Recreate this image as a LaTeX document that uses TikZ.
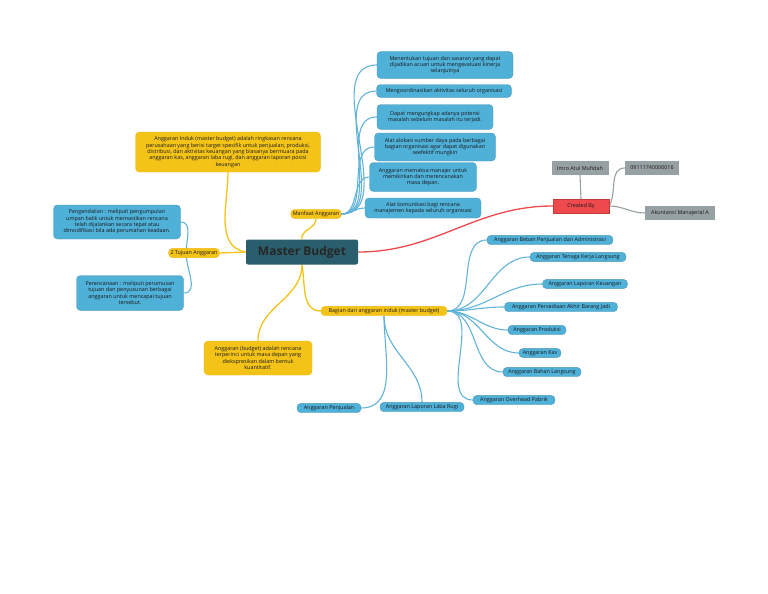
\documentclass[tikz,border=0pt]{standalone}
\usepackage{fontspec}
\setmainfont{Open Sans}
\usetikzlibrary{backgrounds}
\definecolor{yel}{HTML}{F4C318}
\definecolor{blu}{HTML}{4FB0D8}
\definecolor{lnk}{HTML}{62B3D8}
\definecolor{teal}{HTML}{2A5E6C}
\definecolor{gry}{HTML}{97A0A2}
\definecolor{redc}{HTML}{EE4A4E}
\begin{document}
\begin{tikzpicture}[x=1pt,y=-1pt,
 base/.style={rounded corners=4pt,inner sep=2pt,font=\fontsize{5.4}{6.3}\selectfont,align=center,text=black!90},
 ybox/.style={base,fill=yel,draw=yel!80!orange},
 bbox/.style={base,fill=blu,draw=blu!80!black!90},
 gbox/.style={base,rounded corners=0pt,fill=gry,minimum height=14pt},
 yl/.style={draw=yel,line width=1.3pt},
 bl/.style={draw=lnk,line width=1.1pt},
 gl/.style={draw=gry,line width=1.1pt}]
\useasboundingbox (0,0) rectangle (768,594);
\node[fill=teal,rounded corners=2pt,minimum width=112pt,minimum height=25pt,font=\bfseries\fontsize{12}{14}\selectfont,text=black!85] (mb) at (302,252) {Master Budget};
\node[ybox] (man) at (316,214) {Manfaat Anggaran};
\node[ybox,minimum width=185pt,minimum height=40pt] (ind) at (228,152) {Anggaran Induk (master budget) adalah ringkasan rencana\\perusahaan yang berisi target spesifik untuk penjualan, produksi,\\distribusi, dan aktivitas keuangan yang biasanya bermuara pada\\anggaran kas, anggaran laba rugi, dan anggaran laporan posisi\\keuangan};
\node[ybox] (tuj) at (194,253) {2 Tujuan Anggaran};
\coordinate (tj) at (186,253);
\node[bbox,minimum width=127pt,minimum height=34pt] (pen) at (117,222) {Pengendalian : meliputi pengumpulan\\umpan balik untuk memastikan rencana\\telah dijalankan secara tepat atau\\dimodifikasi bila ada perumahan keadaan.};
\node[bbox,minimum width=107pt,minimum height=35pt] (per) at (130,293) {Perencanaan : meliputi perumusan\\tujuan dan penyusunan berbagai\\anggaran untuk mencapai tujuan\\tersebut.};
\node[ybox,minimum width=108pt,minimum height=34pt] (ang) at (258,358) {Anggaran (budget) adalah rencana\\terperinci untuk masa depan yang\\diekspresikan dalam bentuk\\kuantitatif.};
\node[ybox,minimum width=126pt] (bag) at (384,311) {Bagian dari anggaran induk (master budget)};
\node[bbox,minimum width=136pt,minimum height=27pt] (m1) at (445,65) {Menentukan tujuan dan sasaran yang dapat\\dijadikan acuan untuk mengevaluasi kinerja\\selanjutnya};
\node[bbox,minimum width=135pt,minimum height=13pt] (m2) at (444,91) {Mengoordinasikan aktivitas seluruh organisasi};
\node[bbox,minimum width=116pt,minimum height=25pt] (m3) at (435,117) {Dapat mengungkap adanya potensi\\masalah sebelum masalah itu terjadi.};
\node[bbox,minimum width=121pt,minimum height=28pt] (m4) at (435,147) {Alat alokasi sumber daya pada berbagai\\bagian organisasi agar dapat digunakan\\seefektif mungkin};
\node[bbox,minimum width=107pt,minimum height=29pt] (m5) at (423,177) {Anggaran memaksa manajer untuk\\memikirkan dan merencanakan\\masa depan.};
\node[bbox,minimum width=116pt,minimum height=20pt] (m6) at (423,208) {Alat komunikasi bagi rencana\\manajemen kepada seluruh organisasi};
\node[base,rounded corners=0pt,fill=redc,draw=redc!80!black,minimum width=56pt,minimum height=14pt] (cb) at (581,206) {Created By};
\node[gbox,minimum width=57pt] (im) at (580,168) {Imro Atul Mufidah};
\node[gbox,minimum width=54pt] (nim) at (652,168) {09111740000016};
\node[gbox,minimum width=70pt] (ak) at (680,213) {Akuntansi Manajerial A};
\node[bbox,minimum width=126pt] (b1) at (550,240) {Anggaran Beban Penjualan dan Administrasi};
\node[bbox,minimum width=96pt] (b2) at (578,257) {Anggaran Tenaga Kerja Langsung};
\node[bbox,minimum width=85pt] (b3) at (585,284) {Anggaran Laporan Keuangan};
\node[bbox,minimum width=113pt] (b4) at (561,307) {Anggaran Persediaan Akhir Barang Jadi};
\node[bbox,minimum width=58pt] (b5) at (537,330) {Anggaran Produksi};
\node[bbox,minimum width=42pt] (b6) at (540,353) {Anggaran Kas};
\node[bbox,minimum width=78pt] (b7) at (542,372) {Anggaran Bahan Langsung};
\node[bbox,minimum width=82pt] (b8) at (514,400) {Anggaran Overhead Pabrik};
\node[bbox,minimum width=64pt] (b9) at (329,408) {Anggaran Penjualan};
\node[bbox,minimum width=84pt] (b10) at (422,407) {Anggaran Laporan Laba Rugi};
\begin{scope}[on background layer]
\draw[yl] (mb.north) to[out=100,in=-90] (man.south);
\draw[yl] (mb.west) to[out=170,in=-90] (ind.south);
\draw[yl] (mb.west) -- (tuj.east);
\draw[yl] (mb.south) to[out=-90,in=90] (ang.north);
\draw[yl] (mb.south) to[out=-80,in=180] (bag.west);
\draw[draw=redc,line width=1.3pt] (mb.east) to[out=0,in=180] (cb.west);
\draw[bl] (pen.east) to[out=0,in=90] (tj);
\draw[bl] (tj) to[out=-90,in=0] (per.east);
\foreach \n in {m1,m2,m3,m4,m5,m6}
  \draw[bl] (man.east) to[out=0,in=180] (\n.west);
\foreach \n in {b1,b2,b3,b4,b5,b6,b7,b8}
  \draw[bl] (bag.east) to[out=0,in=180] (\n.west);
\draw[bl] (bag.south) to[out=-90,in=0] (b9.east);
\draw[bl] (bag.south) to[out=-90,in=90] (b10.north);
\draw[gl] (cb.north) -- (im.south);
\draw[gl] (cb.east) to[out=60,in=180] (nim.west);
\draw[gl] (cb.east) to[out=0,in=180] (ak.west);
\end{scope}
\end{tikzpicture}
\end{document}
